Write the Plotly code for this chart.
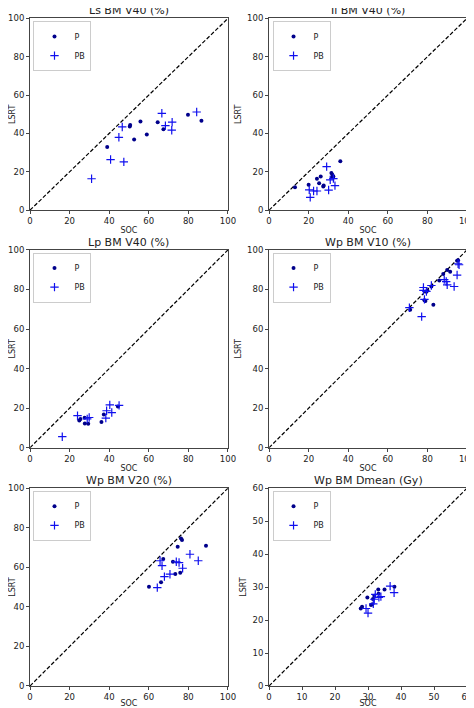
import plotly.graph_objects as go

# panel titles and axis limits
titles = ["Ls BM V40 (%)", "Il BM V40 (%)", "Lp BM V40 (%)",
          "Wp BM V10 (%)", "Wp BM V20 (%)", "Wp BM Dmean (Gy)"]
limits = [100, 100, 100, 100, 100, 60]
tick_steps = [20, 20, 20, 20, 20, 10]

# Ls BM V40
ls_p_soc = [39.0, 50.4, 50.6, 52.6, 55.8, 59.0, 64.5, 67.4, 79.8, 86.6]
ls_p_lsrt = [32.9, 43.6, 44.4, 36.8, 46.3, 39.5, 45.9, 42.2, 49.8, 46.6]
ls_pb_soc = [31.1, 40.7, 44.9, 46.6, 47.4, 66.6, 68.4, 71.8, 71.6, 84.2]
ls_pb_lsrt = [16.4, 26.4, 38.0, 43.4, 25.2, 50.5, 44.1, 45.9, 41.7, 51.2]

# Il BM V40
il_p_soc = [13.1, 20.0, 24.2, 25.3, 26.1, 27.4, 27.6, 31.5, 32.0, 32.5, 31.8, 36.0]
il_p_lsrt = [12.0, 13.2, 16.4, 14.0, 17.6, 12.3, 12.9, 19.4, 18.5, 17.6, 17.0, 25.5]
il_pb_soc = [20.3, 20.8, 22.5, 24.2, 29.1, 30.1, 30.9, 33.3, 32.5]
il_pb_lsrt = [10.6, 6.7, 10.0, 10.0, 22.7, 10.5, 15.8, 12.8, 16.5]

# Lp BM V40
lp_p_soc = [24.9, 25.5, 27.6, 27.7, 29.4, 36.1, 37.3, 44.4]
lp_p_lsrt = [13.8, 14.5, 15.2, 12.3, 12.1, 13.0, 16.8, 20.9]
lp_pb_soc = [16.3, 24.0, 28.9, 29.9, 38.3, 38.7, 40.3, 41.3, 45.0]
lp_pb_lsrt = [5.6, 16.2, 14.6, 15.3, 15.0, 18.7, 21.7, 17.8, 21.4]

# Wp BM V10
v10_p_soc = [71.3, 78.5, 79.0, 79.5, 80.0, 82.0, 83.0, 86.0, 88.0, 90.0, 91.5, 95.0, 95.5]
v10_p_lsrt = [69.8, 74.5, 74.2, 78.8, 79.5, 81.5, 72.3, 84.5, 87.8, 89.8, 89.0, 94.5, 94.8]
v10_pb_soc = [70.9, 77.1, 78.0, 78.0, 78.5, 79.5, 82.0, 88.5, 89.5, 90.0, 93.5, 95.0, 95.5, 96.0]
v10_pb_lsrt = [70.8, 66.3, 81.0, 79.5, 75.0, 79.0, 82.0, 85.0, 84.0, 82.3, 81.5, 87.3, 93.0, 92.5]

# Wp BM V20
v20_p_soc = [60.1, 66.2, 73.4, 75.9, 67.3, 72.2, 74.6, 76.3, 76.8, 88.9]
v20_p_lsrt = [50.2, 52.4, 56.6, 57.3, 64.2, 62.8, 70.4, 74.6, 73.8, 70.9]
v20_pb_soc = [64.3, 67.9, 70.7, 77.1, 65.7, 66.7, 73.9, 75.3, 80.8, 85.0]
v20_pb_lsrt = [49.7, 55.3, 56.5, 59.5, 63.3, 60.8, 62.8, 62.4, 66.6, 63.3]

# Wp BM Dmean
dm_p_soc = [27.8, 28.2, 29.8, 30.9, 31.3, 31.5, 31.9, 33.1, 33.2, 35.0, 38.0]
dm_p_lsrt = [23.5, 24.0, 26.8, 24.6, 24.8, 26.4, 27.4, 29.3, 28.0, 29.3, 30.1]
dm_pb_soc = [29.4, 30.0, 31.6, 31.9, 32.2, 33.3, 33.9, 36.7, 37.9]
dm_pb_lsrt = [23.5, 22.1, 24.9, 26.3, 27.8, 26.9, 27.1, 30.3, 28.3]

panels = [
    (ls_p_soc, ls_p_lsrt, ls_pb_soc, ls_pb_lsrt),
    (il_p_soc, il_p_lsrt, il_pb_soc, il_pb_lsrt),
    (lp_p_soc, lp_p_lsrt, lp_pb_soc, lp_pb_lsrt),
    (v10_p_soc, v10_p_lsrt, v10_pb_soc, v10_pb_lsrt),
    (v20_p_soc, v20_p_lsrt, v20_pb_soc, v20_pb_lsrt),
    (dm_p_soc, dm_p_lsrt, dm_pb_soc, dm_pb_lsrt),
]

# subplot domains (3 rows x 2 cols); top row lowered a little so its titles fit
x_domains = [[0.0, 0.453], [0.547, 1.0]]
y_domains = [[0.707, 0.992], [0.354, 0.648], [0.0, 0.294]]

FONT = "DejaVu Sans"
fig = go.Figure()
layout = {}

for i, (p_x, p_y, pb_x, pb_y) in enumerate(panels):
    n = i + 1
    sfx = "" if n == 1 else str(n)
    xa, ya = "x" + sfx, "y" + sfx
    leg = "legend" + sfx
    lim = limits[i]
    xd = x_domains[i % 2]
    yd = y_domains[i // 2]

    # identity line
    fig.add_trace(go.Scatter(x=[0, lim], y=[0, lim], mode="lines",
                             line=dict(color="black", width=1.2, dash="4px,2px"),
                             showlegend=False, hoverinfo="skip",
                             xaxis=xa, yaxis=ya))
    fig.add_trace(go.Scatter(x=p_x, y=p_y, mode="markers", name="P",
                             marker=dict(symbol="circle", size=4, color="#00008b"),
                             xaxis=xa, yaxis=ya, legend=leg))
    fig.add_trace(go.Scatter(x=pb_x, y=pb_y, mode="markers", name="PB",
                             marker=dict(symbol="cross-thin", size=6, color="#1010ee",
                                         line=dict(color="#1010ee", width=1.2)),
                             xaxis=xa, yaxis=ya, legend=leg))

    axis_common = dict(range=[0, lim], dtick=tick_steps[i], showgrid=False,
                       zeroline=False, showline=True, mirror=True, automargin=False,
                       ticklabeloverflow="allow",
                       linecolor="#444", linewidth=1, ticks="outside",
                       ticklen=3, tickcolor="#444",
                       tickfont=dict(family=FONT, size=8.5, color="#222"))
    layout["xaxis" + sfx] = dict(axis_common, domain=xd, anchor=ya,
                                 title=dict(text="SOC", standoff=2,
                                            font=dict(family=FONT, size=8, color="#222")))
    layout["yaxis" + sfx] = dict(axis_common, domain=yd, anchor=xa,
                                 title=dict(text="LSRT", standoff=4,
                                            font=dict(family=FONT, size=8, color="#222")))
    layout[leg] = dict(x=xd[0] + 0.008, y=yd[1] - 0.004, xanchor="left", yanchor="top",
                       bgcolor="white", bordercolor="#cccccc", borderwidth=1,
                       font=dict(family=FONT, size=8, color="#222"),
                       itemwidth=30, tracegroupgap=0)

annotations = []
for i, t in enumerate(titles):
    xd = x_domains[i % 2]
    yd = y_domains[i // 2]
    annotations.append(dict(text=t, x=(xd[0] + xd[1]) / 2, y=yd[1], xref="paper",
                            yref="paper", xanchor="center", yanchor="bottom",
                            yshift=-1, showarrow=False,
                            font=dict(family=FONT, size=11, color="#222")))

# the page body adds an 8px margin, so the figure is sized to the visible area
fig.update_layout(
    width=466, height=700,
    margin=dict(l=22, r=7, t=5, b=22),
    paper_bgcolor="white", plot_bgcolor="white",
    font=dict(family=FONT),
    annotations=annotations,
    **layout,
)

fig.write_html("out.html")
